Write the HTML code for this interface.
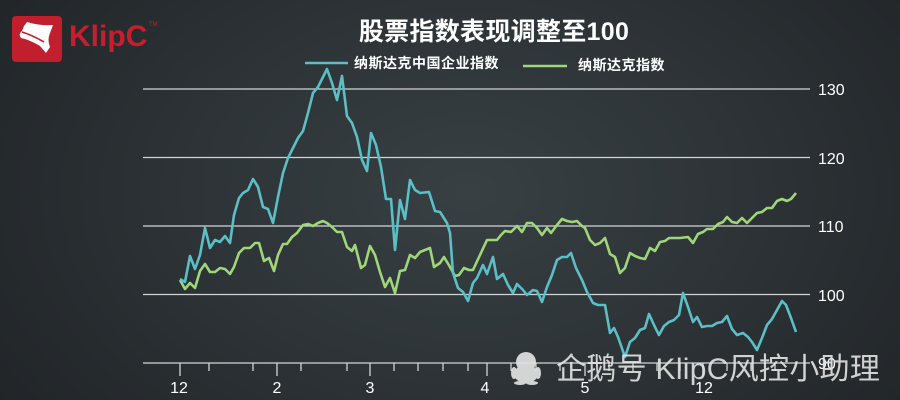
<!DOCTYPE html>
<html>
<head>
<meta charset="utf-8">
<style>
html,body{margin:0;padding:0;}
body{width:900px;height:400px;overflow:hidden;position:relative;
background:radial-gradient(ellipse 620px 420px at 52% 48%, #384043 0%, #2d3336 45%, #1e2225 100%);
font-family:"Liberation Sans","Noto Sans CJK SC",sans-serif;}
svg{position:absolute;left:0;top:0;}
</style>
</head>
<body>
<svg width="900" height="400" viewBox="0 0 900 400" xmlns="http://www.w3.org/2000/svg">
  <!-- logo -->
  <rect x="12" y="16" width="50" height="46" rx="4" fill="#c11f2d"/>
  <path d="M24 26 L27 22 Q40 26 53 25 L50 33 Q47 40 50 47 L46 53 L40 46 Q30 40 21 38 Q18 34 22 31 Z" fill="#ffffff"/>
  <path d="M22 32 Q32 35 44 42" stroke="#c11f2d" stroke-width="1.6" fill="none"/>
  <text x="69" y="46" font-family="Liberation Sans, sans-serif" font-weight="bold" font-size="30" fill="#c41f2e">KlipC</text>
  <text x="149" y="26" font-family="Liberation Sans, sans-serif" font-size="6" fill="#c41f2e">TM</text>

  <!-- title -->
  <text x="494" y="40" text-anchor="middle" font-family="Liberation Sans, 'Noto Sans CJK SC', sans-serif" font-size="25" font-weight="bold" fill="#ffffff" letter-spacing="0.3">股票指数表现调整至100</text>

  <!-- legend -->
  <line x1="305" y1="63" x2="348" y2="63" stroke="#5bbfc5" stroke-width="2.5"/>
  <text x="354" y="68" font-family="Liberation Sans, 'Noto Sans CJK SC', sans-serif" font-size="14" font-weight="bold" fill="#ffffff" letter-spacing="0.5">纳斯达克中国企业指数</text>
  <line x1="523" y1="66" x2="567" y2="66" stroke="#9fd67a" stroke-width="2.5"/>
  <text x="578" y="70" font-family="Liberation Sans, 'Noto Sans CJK SC', sans-serif" font-size="14" font-weight="bold" fill="#ffffff" letter-spacing="0.5">纳斯达克指数</text>

  <!-- gridlines -->
  <g stroke="#d2d5d6" stroke-width="1.3">
    <line x1="143" y1="89" x2="810" y2="89"/>
    <line x1="143" y1="157.5" x2="810" y2="157.5"/>
    <line x1="143" y1="226" x2="810" y2="226"/>
    <line x1="143" y1="294.5" x2="810" y2="294.5"/>
    <line x1="143" y1="363" x2="810" y2="363"/>
  </g>
  <!-- ticks -->
  <g stroke="#d2d5d6" stroke-width="1.3">
    <line x1="180" y1="363" x2="180" y2="376"/>
    <line x1="277" y1="363" x2="277" y2="376"/>
    <line x1="370" y1="363" x2="370" y2="376"/>
    <line x1="487" y1="363" x2="487" y2="376"/>
    <line x1="585" y1="363" x2="585" y2="376"/>
    <line x1="703" y1="363" x2="703" y2="376"/>
    <line x1="209" y1="363" x2="209" y2="371"/>
    <line x1="253" y1="363" x2="253" y2="371"/>
    <line x1="301" y1="363" x2="301" y2="371"/>
    <line x1="347" y1="363" x2="347" y2="371"/>
    <line x1="394" y1="363" x2="394" y2="371"/>
    <line x1="418" y1="363" x2="418" y2="371"/>
    <line x1="443" y1="363" x2="443" y2="371"/>
    <line x1="468" y1="363" x2="468" y2="371"/>
    <line x1="511" y1="363" x2="511" y2="371"/>
    <line x1="536" y1="363" x2="536" y2="371"/>
    <line x1="560" y1="363" x2="560" y2="371"/>
    <line x1="609" y1="363" x2="609" y2="371"/>
    <line x1="633" y1="363" x2="633" y2="371"/>
    <line x1="657" y1="363" x2="657" y2="371"/>
    <line x1="680" y1="363" x2="680" y2="371"/>
    <line x1="727" y1="363" x2="727" y2="371"/>
    <line x1="751" y1="363" x2="751" y2="371"/>
    <line x1="775" y1="363" x2="775" y2="371"/>
  </g>
  <!-- y labels -->
  <g font-family="Liberation Sans, sans-serif" font-size="16" fill="#ffffff">
    <text x="818" y="95">130</text>
    <text x="818" y="164">120</text>
    <text x="818" y="232">110</text>
    <text x="818" y="301">100</text>
    <text x="818" y="369">90</text>
  </g>
  <!-- x labels -->
  <g font-family="Liberation Sans, sans-serif" font-size="16" fill="#ffffff" text-anchor="middle">
    <text x="179" y="393">12</text>
    <text x="277" y="393">2</text>
    <text x="370" y="393">3</text>
    <text x="485" y="393">4</text>
    <text x="585" y="393">5</text>
    <text x="704" y="393">12</text>
  </g>

  <!-- green series -->
  <polyline fill="none" stroke="#9fd67a" stroke-width="2.6" stroke-linejoin="round" points="180,280 185,289 190,283 195,288 200,271 205,264 210,272 215,272 220,268 225,269 230,274 234,267 239,253 244,248 250,248 255,243 259,243 264,261 269,258 274,271 278,255 283,244 287,244 292,237 297,233 303,225 308,224 313,226 318,223 323,221 327,223 332,227 337,232 342,232 347,247 352,251 355,245 361,268 365,265 370,246 375,255 380,272 385,287 390,278 395,293 400,271 405,270 410,255 415,258 420,252 425,250 430,248 434,267 440,263 444,257 450,267 455,276 459,275 464,268 469,270 473,270 480,255 487,240 492,240 497,240 501,235 505,231 511,232 517,226 522,232 527,223 532,223 537,228 542,235 547,228 551,233 557,225 562,219 567,221 572,222 577,221 582,226 585,228 590,240 595,245 600,243 605,238 610,254 615,257 620,273 625,268 630,253 635,256 640,258 645,259 650,248 655,251 660,242 665,241 669,238 675,238 680,238 688,237 693,243 698,234 703,232 707,229 713,229 718,224 723,222 727,217 732,222 737,223 742,218 747,223 752,218 757,213 762,212 767,208 772,208 777,201 782,199 787,201 791,199 796,193"/>
  <!-- teal series -->
  <polyline fill="none" stroke="#5bbfc5" stroke-width="2.6" stroke-linejoin="round" points="180,279 185,282 190,256 195,269 200,255 205,228 210,248 215,240 220,242 225,236 230,243 234,215 239,198 243,193 248,190 253,179 258,187 263,207 268,209 273,223 278,197 283,173 288,158 293,148 298,138 303,131 308,113 313,93 318,87 327,69 332,83 337,100 342,76 347,116 352,123 357,137 362,160 367,171 371,133 376,145 381,167 386,199 391,199 395,250 400,200 405,219 410,180 415,190 420,193 429,192 435,211 440,212 447,223 450,233 453,273 458,288 463,292 468,301 473,283 477,278 483,265 487,274 493,257 497,279 503,274 508,285 513,293 517,284 523,290 527,295 533,290 537,291 542,302 547,287 552,275 557,260 562,257 567,257 571,253 576,268 582,280 587,292 593,303 598,305 605,305 610,333 614,328 618,337 625,357 630,342 635,338 640,330 645,328 649,314 654,325 659,335 664,326 669,322 674,320 679,315 683,293 688,307 693,322 697,317 702,327 707,326 712,326 717,323 722,322 727,316 732,329 737,335 743,333 748,337 752,342 757,350 762,338 767,325 772,319 777,310 782,301 786,305 791,318 796,332"/>

  <!-- watermark -->
  <g fill="#e2e2e2" opacity="0.92">
    <ellipse cx="526" cy="362" rx="10" ry="10"/>
    <ellipse cx="526" cy="374" rx="12" ry="9"/>
    <ellipse cx="514" cy="373" rx="3" ry="6"/>
    <ellipse cx="538" cy="373" rx="3" ry="6"/>
    <ellipse cx="520" cy="383" rx="6" ry="2"/>
    <ellipse cx="532" cy="383" rx="6" ry="2"/>
  </g>
  <text x="556" y="379" font-family="Liberation Sans, 'Noto Sans CJK SC', sans-serif" font-size="30" fill="#e4e4e4" opacity="0.9" letter-spacing="0.3">企鹅号 KlipC风控小助理</text>
</svg>
</body>
</html>
